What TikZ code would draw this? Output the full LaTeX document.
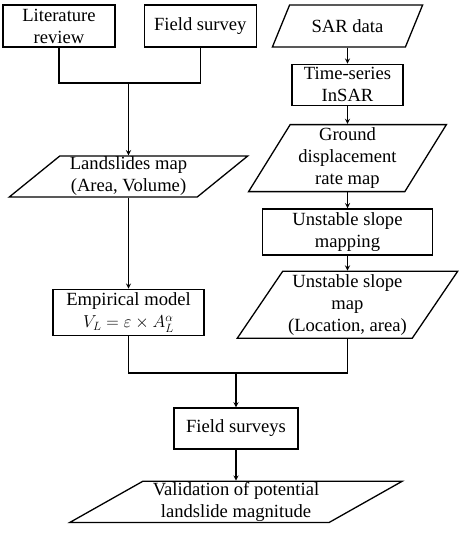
\documentclass[tikz,border=0pt]{standalone}
\usepackage{fontspec}
\setmainfont{Liberation Serif}
\usepackage{amsmath}
\usetikzlibrary{shapes.geometric,arrows,positioning,calc}

\begin{document}
\begin{tikzpicture}[
    x=1pt, y=-1pt,
    font=\fontsize{18.6}{22}\selectfont,
    box/.style={rectangle, draw, line width=1.3pt, align=center, inner sep=1pt},
    data/.style={trapezium, trapezium stretches=true, draw, line width=1.3pt, align=center, inner sep=1pt},
    arrow/.style={->,>=stealth,line width=1.3pt},
    link/.style={line width=1.3pt},
]
\useasboundingbox (0,0) rectangle (474,548);

% Inputs on the left
\node[box, minimum width=112pt, minimum height=42pt] (litrev) at (59,26) {Literature\\review};
\node[box, minimum width=112pt, minimum height=42pt, right=28pt of litrev] (fsurvey) {Field survey};

% Landslide inventory
\node[data, trapezium left angle=43, trapezium right angle=137, minimum width=239pt, minimum height=41pt] (lmap) at (128.5,176.5) {Landslides map\\(Area, Volume)};
\node[box, minimum width=151pt, minimum height=46pt, below=91pt of lmap] (empmodel) {Empirical model\\$V_L = \varepsilon \times A_L^{\alpha}$};

% InSAR branch
\node[data, trapezium left angle=54, trapezium right angle=126, minimum width=151pt, minimum height=42pt] (sar) at (347.5,26) {SAR data};
\node[box, minimum width=111pt, minimum height=41pt, below=16pt of sar] (tsinsar) {Time-series\\InSAR};
\node[data, trapezium left angle=60, trapezium right angle=120, minimum width=198pt, minimum height=67pt, below=18pt of tsinsar] (gdrmap) {Ground\\displacement\\rate map};
\node[box, minimum width=170pt, minimum height=46pt, below=16pt of gdrmap] (usmapping) {Unstable slope\\mapping};
\node[data, trapezium left angle=56, trapezium right angle=124, minimum width=221pt, minimum height=67pt, below=15pt of usmapping] (usmap) {Unstable slope\\map\\(Location, area)};

% Validation
\node[box, minimum width=124pt, minimum height=41pt] (fsurveys) at (236,428.5) {Field surveys};
\node[data, trapezium left angle=32, trapezium right angle=148, minimum width=333pt, minimum height=41pt, below=31pt of fsurveys] (valid) {Validation of potential\\landslide magnitude};

% Joins
\coordinate (topjoin) at (128.5,83);
\coordinate (botjoin) at (236,373);

% Arrows
\draw[link] (litrev.south) |- (topjoin) -| (fsurvey.south);
\draw[arrow] (topjoin) -- (topjoin |- lmap.north);
\draw[arrow] (lmap.south) -- (empmodel.north);
\draw[arrow] (sar.south) -- (tsinsar.north);
\draw[arrow] (tsinsar.south) -- (gdrmap.north);
\draw[arrow] (gdrmap.south) -- (usmapping.north);
\draw[arrow] (usmapping.south) -- (usmap.north);
\draw[link] (empmodel.south) |- (botjoin) -| (usmap.south);
\draw[arrow] (botjoin) -- (fsurveys.north);
\draw[arrow] (fsurveys.south) -- (valid.north);

\end{tikzpicture}
\end{document}
